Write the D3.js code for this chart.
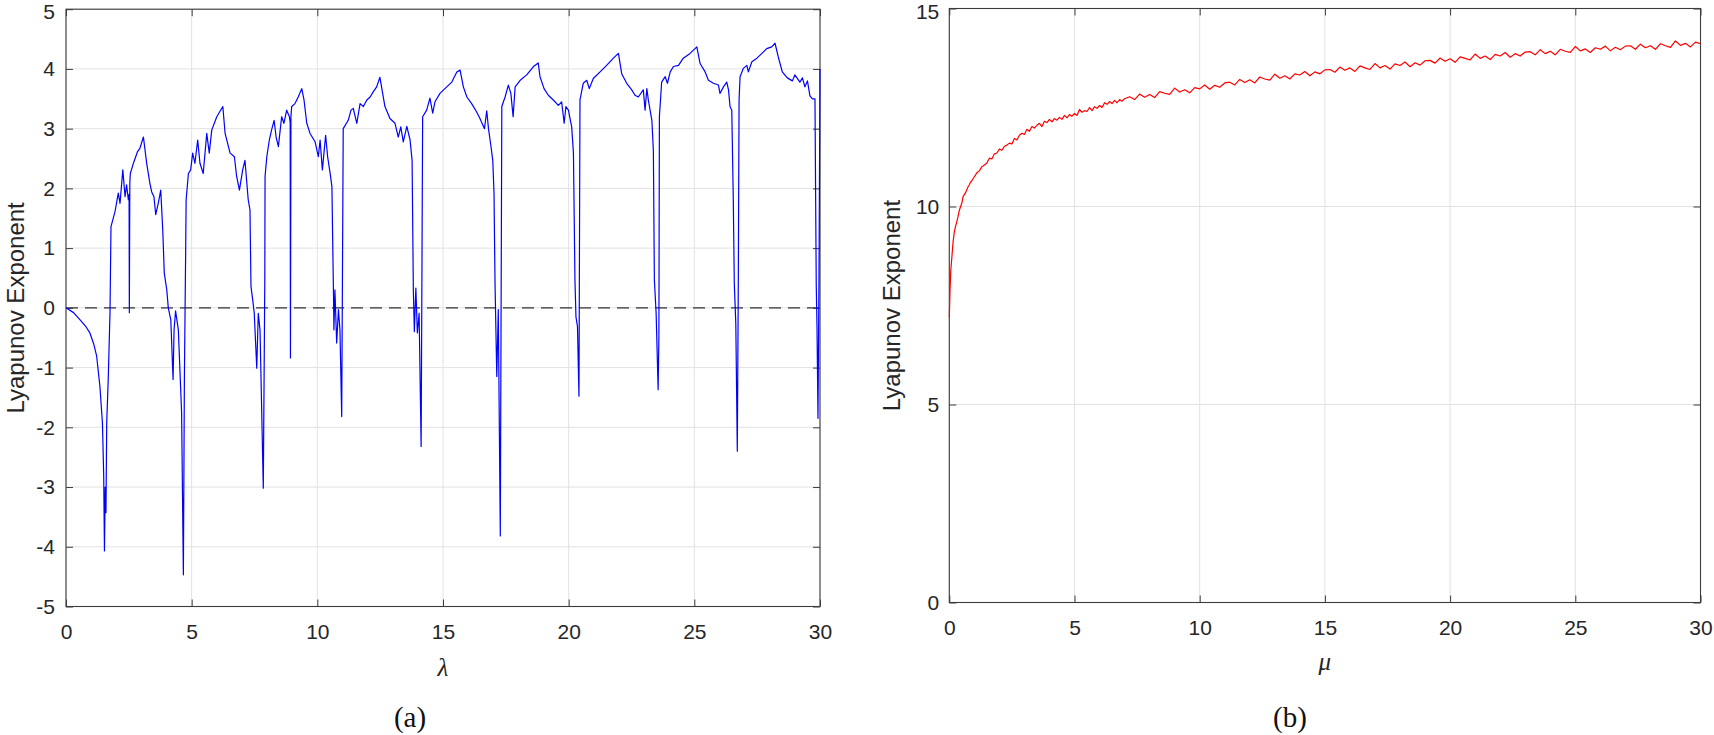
<!DOCTYPE html>
<html>
<head>
<meta charset="utf-8">
<script src="https://cdn.jsdelivr.net/npm/d3@7"></script>
<style>
  body { margin: 0; background: #fff; }
</style>
</head>
<body>
<svg id="fig" width="1714" height="735"></svg>
<script>
// tick labels
var xTicks = [0, 5, 10, 15, 20, 25, 30];
var lambdaYTicks = [-5, -4, -3, -2, -1, 0, 1, 2, 3, 4, 5];
var muYTicks = [0, 5, 10, 15];

// (a) lyapunov exponent vs lambda
var lambdaSeries = [
  [0,0],[0.3,-0.08],[0.56,-0.2],[0.8,-0.32],[0.95,-0.42],[1.1,-0.6],[1.22,-0.81],[1.35,-1.32],[1.45,-1.93],[1.5,-2.8],
  [1.53,-4.07],[1.56,-3.0],[1.59,-3.43],[1.62,-1.93],[1.68,-1.2],[1.75,-0.09],[1.79,1.36],
  [1.95,1.61],[2.08,1.92],[2.15,1.75],[2.26,2.31],[2.35,1.86],[2.41,2.06],[2.48,1.81],[2.51,1.9],[2.52,-0.08],[2.54,2.1],
  [2.56,2.25],[2.68,2.42],[2.75,2.5],[2.84,2.61],[2.94,2.67],[3.08,2.86],[3.21,2.42],[3.34,2.08],[3.41,1.94],[3.5,1.86],
  [3.57,1.56],[3.67,1.75],[3.77,1.97],[3.85,1.3],[3.91,0.58],[4.01,0.3],[4.07,0],[4.17,-0.2],[4.26,-1.2],[4.3,-0.37],
  [4.36,-0.05],[4.47,-0.37],[4.6,-1.76],[4.67,-4.47],[4.71,-1.2],[4.76,0.9],
  [4.78,1.81],[4.87,2.25],[4.96,2.31],[5.04,2.59],[5.13,2.42],[5.24,2.81],[5.33,2.42],[5.46,2.25],[5.6,2.92],[5.7,2.59],
  [5.8,2.98],[6.0,3.2],[6.24,3.37],[6.33,2.92],[6.53,2.59],[6.7,2.53],[6.79,2.2],[6.9,1.97],[7.03,2.31],[7.12,2.47],
  [7.25,1.81],[7.32,1.64],[7.36,0.36],[7.43,0.13],[7.49,-0.09],[7.59,-1.01],[7.65,-0.09],[7.72,-0.37],[7.85,-3.02],[7.91,0.5],
  [7.92,2.2],[7.99,2.53],[8.09,2.81],[8.18,2.98],[8.28,3.14],[8.36,2.86],[8.45,2.7],[8.58,3.2],[8.67,3.09],[8.78,3.31],
  [8.89,3.2],[8.92,3.1],[8.93,-0.84],[8.95,3.2],[8.98,3.37],[9.11,3.42],[9.24,3.53],[9.38,3.67],[9.47,3.48],[9.58,3.09],
  [9.71,2.92],[9.91,2.78],[10.04,2.53],[10.11,2.81],[10.2,2.31],[10.33,2.89],[10.41,2.53],[10.51,2.25],[10.58,2.03],
  [10.64,0.3],[10.66,-0.37],[10.7,0.3],[10.77,-0.59],[10.84,-0.03],[10.9,-0.37],[10.97,-1.82],
  [11.03,3.0],[11.23,3.14],[11.34,3.31],[11.43,3.34],[11.57,3.09],[11.7,3.42],[11.83,3.37],[11.97,3.48],[12.1,3.53],
  [12.23,3.62],[12.36,3.7],[12.49,3.86],[12.69,3.37],[12.89,3.17],[13.09,3.09],[13.22,2.86],[13.32,3.03],[13.42,2.78],
  [13.56,3.04],[13.69,2.81],[13.77,2.47],[13.82,0.3],[13.86,-0.4],[13.92,0.33],[13.98,-0.42],[14.05,-0.09],[14.13,-2.32],
  [14.19,3.2],[14.35,3.31],[14.48,3.51],[14.59,3.26],[14.68,3.45],[14.88,3.59],[15.15,3.7],[15.35,3.78],[15.55,3.95],
  [15.68,3.98],[15.81,3.7],[15.95,3.53],[16.14,3.42],[16.34,3.28],[16.47,3.17],[16.65,3.0],[16.74,3.3],[16.81,3.0],
  [16.9,2.73],[16.98,2.47],[17.03,1.92],[17.07,0.41],[17.14,-1.15],[17.2,-0.03],[17.28,-3.82],
  [17.34,3.37],[17.47,3.53],[17.6,3.73],[17.7,3.59],[17.79,3.2],[17.87,3.7],[18.07,3.81],[18.33,3.9],[18.6,4.04],
  [18.79,4.1],[18.86,3.87],[19.02,3.67],[19.19,3.56],[19.39,3.48],[19.59,3.39],[19.72,3.45],[19.82,3.09],[19.89,3.37],
  [19.99,3.31],[20.12,3.03],[20.19,2.59],[20.25,0.47],[20.29,-0.15],[20.35,-0.31],[20.41,-1.48],
  [20.45,3.48],[20.58,3.76],[20.72,3.81],[20.82,3.67],[20.98,3.84],[21.25,3.95],[21.51,4.06],[21.78,4.18],[21.98,4.26],
  [22.11,3.92],[22.31,3.76],[22.51,3.65],[22.64,3.56],[22.77,3.53],[22.97,3.65],[23.04,3.31],[23.11,3.67],[23.17,3.48],
  [23.31,3.14],[23.37,2.64],[23.41,0.47],[23.48,-0.09],[23.56,-1.37],[23.59,-0.48],
  [23.61,3.2],[23.7,3.78],[23.84,3.87],[23.93,3.76],[24.04,3.95],[24.17,4.04],[24.37,4.06],[24.56,4.18],[24.83,4.26],
  [25.1,4.37],[25.23,4.09],[25.43,3.95],[25.56,3.81],[25.76,3.76],[25.96,3.73],[26.02,3.59],[26.16,3.7],[26.29,3.78],
  [26.36,3.65],[26.42,3.37],[26.49,3.31],[26.55,1.81],[26.59,0.41],[26.65,-0.26],[26.71,-2.4],[26.75,0.47],
  [26.78,3.48],[26.82,3.87],[26.95,4.01],[27.09,4.06],[27.15,3.95],[27.29,4.12],[27.49,4.18],[27.69,4.26],[27.88,4.34],
  [28.08,4.37],[28.21,4.43],[28.34,4.2],[28.5,3.95],[28.7,3.85],[28.9,3.8],[29.0,3.9],[29.2,3.78],[29.3,3.85],[29.4,3.7],
  [29.5,3.8],[29.6,3.55],[29.7,3.5],[29.8,3.5],[29.85,0.4],[29.88,-0.3],[29.92,-1.85],[29.96,0.5],[30,4.0]
];

// (b) lyapunov exponent vs mu
var muSeries = [
  [0,7.2],[0.03,7.9],[0.06,8.4],[0.1,8.7],[0.15,9.1],[0.2,9.35],[0.25,9.5],[0.3,9.62],[0.35,9.75],[0.4,9.9],
  [0.45,10.0],[0.5,10.08],[0.55,10.25],[0.6,10.3],[0.65,10.35],[0.7,10.42],[0.75,10.5],[0.8,10.55],[0.85,10.62],[0.9,10.65],
  [0.95,10.7],[1.0,10.75],[1.1,10.85],[1.2,10.9],[1.3,11.0],[1.4,11.05],[1.5,11.1],[1.6,11.22],[1.7,11.2],[1.8,11.33],
  [1.9,11.35],[2.0,11.45],[2.1,11.42],[2.2,11.52],[2.3,11.55],[2.4,11.6],[2.5,11.58],[2.6,11.72],[2.7,11.68],[2.8,11.8],
  [2.9,11.85],[3.0,11.82],[3.1,11.95],[3.2,11.9],[3.3,12.02],[3.4,11.98],[3.5,12.05],[3.6,12.1],[3.7,12.02],[3.8,12.15],
  [3.9,12.12],[4.0,12.2],[4.1,12.14],[4.2,12.22],[4.3,12.18],[4.4,12.25],[4.5,12.2],[4.6,12.3],[4.7,12.24],[4.8,12.32],
  [4.9,12.28],[5.0,12.35],[5.1,12.3],[5.2,12.45],[5.3,12.38],[5.4,12.42],[5.5,12.4],[5.6,12.5],[5.7,12.42],[5.8,12.52],
  [5.9,12.48],[6.0,12.55],[6.1,12.5],[6.2,12.62],[6.3,12.58],[6.4,12.65],[6.5,12.6],[6.6,12.68],[6.7,12.62],[6.8,12.7],
  [6.9,12.66],[7.0,12.72],[7.2,12.77],[7.4,12.7],[7.6,12.84],[7.8,12.76],[8.0,12.83],[8.2,12.75],[8.4,12.9],[8.6,12.86],
  [8.8,12.83],[9.0,12.99],[9.2,12.89],[9.4,12.95],[9.6,12.87],[9.8,13.0],[10.0,12.97],[10.2,13.07],[10.4,12.96],[10.6,13.06],
  [10.8,13.01],[11.0,13.12],[11.2,13.14],[11.4,13.07],[11.6,13.21],[11.8,13.13],[12.0,13.2],[12.2,13.12],[12.4,13.27],
  [12.6,13.22],[12.8,13.19],[13.0,13.34],[13.2,13.24],[13.4,13.3],[13.6,13.22],[13.8,13.35],[14.0,13.32],[14.2,13.41],
  [14.4,13.3],[14.6,13.4],[14.8,13.35],[15.0,13.45],[15.2,13.46],[15.4,13.39],[15.6,13.52],[15.8,13.44],[16.0,13.5],
  [16.2,13.41],[16.4,13.55],[16.6,13.5],[16.8,13.46],[17.0,13.61],[17.2,13.5],[17.4,13.56],[17.6,13.47],[17.8,13.6],
  [18.0,13.56],[18.2,13.65],[18.4,13.53],[18.6,13.63],[18.8,13.57],[19.0,13.68],[19.2,13.69],[19.4,13.62],[19.6,13.75],
  [19.8,13.67],[20.0,13.73],[20.2,13.64],[20.4,13.78],[20.6,13.74],[20.8,13.7],[21.0,13.85],[21.2,13.74],[21.4,13.8],
  [21.6,13.71],[21.8,13.84],[22.0,13.8],[22.2,13.89],[22.4,13.77],[22.6,13.86],[22.8,13.8],[23.0,13.9],[23.2,13.91],
  [23.4,13.83],[23.6,13.96],[23.8,13.86],[24.0,13.92],[24.2,13.83],[24.4,13.97],[24.6,13.92],[24.8,13.89],[25.0,14.04],
  [25.2,13.93],[25.4,13.98],[25.6,13.89],[25.8,14.01],[26.0,13.97],[26.2,14.05],[26.4,13.93],[26.6,14.02],[26.8,13.96],
  [27.0,14.05],[27.2,14.06],[27.4,13.97],[27.6,14.1],[27.8,14.01],[28.0,14.06],[28.2,13.97],[28.4,14.11],[28.6,14.06],
  [28.8,14.02],[29.0,14.18],[29.2,14.07],[29.4,14.12],[29.6,14.03],[29.8,14.15],[30.0,14.11]
];

(function(window) {
  var svg = d3.select("#fig");
  var sans = "Liberation Sans, Arial, Helvetica, sans-serif";
  var serif = "Liberation Serif, Times New Roman, serif";

  svg.append("rect")
    .attr("width", 1714).attr("height", 735)
    .attr("fill", "#fff");

  function drawPanel(p) {
    var x = d3.scaleLinear().domain([0, 30]).range([p.left, p.right]);
    var y = d3.scaleLinear().domain(p.yDomain).range([p.bottom, p.top]);
    var g = svg.append("g");
    var yMax = p.yDomain[1];

    // grid
    g.append("g").selectAll("line").data(xTicks).enter()
      .append("line")
      .attr("x1", function(d) { return x(d); }).attr("x2", function(d) { return x(d); })
      .attr("y1", p.top).attr("y2", p.bottom)
      .attr("stroke", "#e2e2e2").attr("stroke-width", 1);
    g.append("g").selectAll("line").data(p.yTicks).enter()
      .append("line")
      .attr("y1", function(d) { return y(d); }).attr("y2", function(d) { return y(d); })
      .attr("x1", p.left).attr("x2", p.right)
      .attr("stroke", "#e2e2e2").attr("stroke-width", 1);

    var inner = -7;
    var plain = function(d) { return String(d); };
    var bottomAxis = d3.axisBottom(x).tickValues(xTicks).tickSizeInner(inner).tickSizeOuter(0).tickPadding(18).tickFormat(plain);
    var topAxis = d3.axisTop(x).tickValues(xTicks).tickSizeInner(inner).tickSizeOuter(0).tickFormat("");
    var leftAxis = d3.axisLeft(y).tickValues(p.yTicks).tickSizeInner(inner).tickSizeOuter(0).tickPadding(p.yPad).tickFormat(plain);
    var rightAxis = d3.axisRight(y).tickValues(p.yTicks).tickSizeInner(inner).tickSizeOuter(0).tickFormat("");

    var axes = [
      g.append("g").attr("transform", "translate(0," + p.bottom + ")").call(bottomAxis),
      g.append("g").attr("transform", "translate(0," + p.top + ")").call(topAxis),
      g.append("g").attr("transform", "translate(" + p.left + ",0)").call(leftAxis),
      g.append("g").attr("transform", "translate(" + p.right + ",0)").call(rightAxis)
    ];
    axes.forEach(function(a) {
      a.select(".domain").remove();
      a.selectAll(".tick line").attr("stroke", "#3c3c3c");
      a.selectAll(".tick text")
        .attr("font-size", 21)
        .attr("font-family", sans)
        .attr("fill", "#262626");
    });
    // the top label sits a little lower so it stays inside the page
    axes[2].selectAll(".tick text")
      .filter(function(d) { return d === yMax; })
      .attr("y", 3);

    g.append("rect")
      .attr("x", p.left).attr("y", p.top)
      .attr("width", p.right - p.left).attr("height", p.bottom - p.top)
      .attr("fill", "none").attr("stroke", "#3c3c3c").attr("stroke-width", 1.1);

    g.append("text")
      .attr("transform", "translate(" + p.yLabelX + "," + ((p.top + p.bottom) / 2) + ") rotate(-90)")
      .attr("text-anchor", "middle")
      .attr("font-family", sans)
      .attr("font-size", 24)
      .attr("fill", "#262626")
      .text("Lyapunov Exponent");

    g.append("text")
      .attr("x", (p.left + p.right) / 2).attr("y", p.xLabelY)
      .attr("text-anchor", "middle")
      .attr("font-family", serif)
      .attr("font-style", "italic")
      .attr("font-size", 25)
      .attr("fill", "#262626")
      .text(p.xLabel);

    g.append("text")
      .attr("x", p.captionX).attr("y", 727)
      .attr("text-anchor", "middle")
      .attr("font-family", serif)
      .attr("font-size", 29)
      .attr("fill", "#111")
      .text(p.caption);

    return { x: x, y: y, g: g };
  }

  var left = drawPanel({
    left: 66, right: 820, top: 9.2, bottom: 606.5,
    yDomain: [-5, 5], yTicks: lambdaYTicks, yPad: 11,
    yLabelX: 24, xLabelY: 676, xLabel: "\u03bb",
    captionX: 410, caption: "(a)"
  });

  left.g.append("line")
    .attr("x1", left.x(0)).attr("x2", left.x(30))
    .attr("y1", left.y(0)).attr("y2", left.y(0))
    .attr("stroke", "#333").attr("stroke-width", 1.3)
    .attr("stroke-dasharray", "12,7");

  var lambdaLine = d3.line()
    .x(function(d) { return left.x(d[0]); })
    .y(function(d) { return left.y(d[1]); });

  left.g.append("path")
    .datum(lambdaSeries)
    .attr("d", lambdaLine)
    .attr("fill", "none")
    .attr("stroke", "#0000ff")
    .attr("stroke-width", 1.2)
    .attr("stroke-linejoin", "round");

  var right = drawPanel({
    left: 949.3, right: 1700.5, top: 8.5, bottom: 602.5,
    yDomain: [0, 15], yTicks: muYTicks, yPad: 10,
    yLabelX: 900, xLabelY: 670, xLabel: "\u03bc",
    captionX: 1290, caption: "(b)"
  });

  var muLine = d3.line()
    .x(function(d) { return right.x(d[0]); })
    .y(function(d) { return right.y(d[1]); });

  right.g.append("path")
    .datum(muSeries)
    .attr("d", muLine)
    .attr("fill", "none")
    .attr("stroke", "#ff0000")
    .attr("stroke-width", 1.2)
    .attr("stroke-linejoin", "round");

})(window);
</script>
</body>
</html>
